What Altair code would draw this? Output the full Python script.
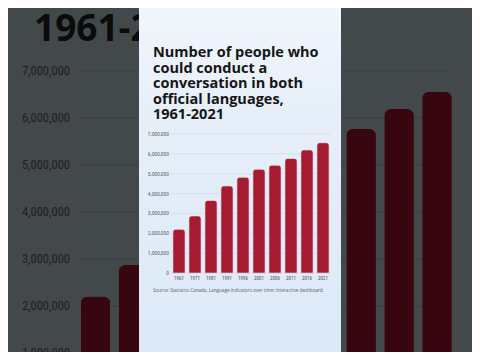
import altair as alt
import pandas as pd

# ---- data ----
years = ["1961", "1971", "1981", "1991", "1996", "2001", "2006", "2011", "2016", "2021"]
speakers = [2200000, 2870000, 3650000, 4380000, 4820000, 5220000, 5430000, 5770000, 6190000, 6560000]
tick_values = [0, 1000000, 2000000, 3000000, 4000000, 5000000, 6000000, 7000000]
title_lines = ["Number of people who", "could conduct a", "conversation in both",
               "official languages,", "1961-2021"]
bg_title_lines = ["official languages,", "1961-2021"]
source_note = "Source: Statistics Canada, Language indicators over time: interactive dashboard."

bars_df = pd.DataFrame({"year": years, "speakers": speakers})
ticks_df = pd.DataFrame({"tick": tick_values})
title_df = pd.DataFrame({"line": title_lines, "row": list(range(len(title_lines)))})
bg_title_df = pd.DataFrame({"line": bg_title_lines, "row": list(range(len(bg_title_lines)))})
one_df = pd.DataFrame({"k": [0]})

# scales: background (enlarged, dimmed) chart and foreground panel chart
bg_x = alt.Scale(domain=years, range=[68.5, 448], paddingInner=0.22, paddingOuter=0.11)
bg_y = alt.Scale(domain=[0, 7000000], range=[392, 63])
fg_x = alt.Scale(domain=years, range=[163, 323], paddingInner=0.25, paddingOuter=0.125)
fg_y = alt.Scale(domain=[0, 7000000], range=[265, 126])

narrow = "Liberation Sans Narrow, Roboto Condensed, DejaVu Sans Condensed, sans-serif"
bold_font = "Open Sans"

# ---- background (dimmed) chart ----
bg_grid = alt.Chart(ticks_df).mark_rule(color="#3a3f43", strokeWidth=1).encode(
    x=alt.value(72), x2=alt.value(440),
    y=alt.Y("tick:Q", scale=bg_y, axis=None),
)
bg_bars = alt.Chart(bars_df).mark_bar(
    color="#38060f", cornerRadiusTopLeft=7, cornerRadiusTopRight=7
).encode(
    x=alt.X("year:N", scale=bg_x, axis=None, sort=years),
    y=alt.Y("speakers:Q", scale=bg_y, axis=None),
)
bg_labels = alt.Chart(ticks_df).mark_text(
    align="right", baseline="middle", fontSize=12.5, font=narrow, color="#1c2023"
).encode(
    x=alt.value(62),
    y=alt.Y("tick:Q", scale=bg_y, axis=None),
    text=alt.Text("tick:Q", format=","),
)
bg_title = alt.Chart(bg_title_df).mark_text(
    align="left", baseline="alphabetic", fontSize=37, font=bold_font,
    fontWeight="bold", color="#0b0b0b"
).encode(
    x=alt.value(26),
    y=alt.Y("row:Q", scale=alt.Scale(domain=[0, 1], range=[-5, 33]), axis=None),
    text="line:N",
)

# ---- foreground panel ----
panel = alt.Chart(one_df).mark_rect(
    fill=alt.Gradient(
        gradient="linear",
        stops=[
            alt.GradientStop(color="#f1f6fd", offset=0),
            alt.GradientStop(color="#e6eff9", offset=0.3),
            alt.GradientStop(color="#dde9f8", offset=1),
        ],
        x1=0, x2=0, y1=0, y2=1,
    )
).encode(x=alt.value(131), x2=alt.value(333), y=alt.value(0), y2=alt.value(352))

title = alt.Chart(title_df).mark_text(
    align="left", baseline="alphabetic", fontSize=14.5, font=bold_font,
    fontWeight="bold", color="#151515"
).encode(
    x=alt.value(145),
    y=alt.Y("row:Q", scale=alt.Scale(domain=[0, 4], range=[49, 111]), axis=None),
    text="line:N",
)

fg_grid = alt.Chart(ticks_df).mark_rule(color="#cbd7e5", strokeWidth=0.6).encode(
    x=alt.value(163), x2=alt.value(323),
    y=alt.Y("tick:Q", scale=fg_y, axis=None),
)
fg_bars = alt.Chart(bars_df).mark_bar(
    color="#a51b31", cornerRadiusTopLeft=3, cornerRadiusTopRight=3,
    stroke="#e8b8c0", strokeWidth=0.4
).encode(
    x=alt.X("year:N", scale=fg_x, axis=None, sort=years),
    y=alt.Y("speakers:Q", scale=fg_y, axis=None),
)
fg_ylabels = alt.Chart(ticks_df).mark_text(
    align="right", baseline="middle", fontSize=5.5, font=narrow, color="#5a5f66"
).encode(
    x=alt.value(161),
    y=alt.Y("tick:Q", scale=fg_y, axis=None),
    text=alt.Text("tick:Q", format=","),
)
fg_xlabels = alt.Chart(bars_df).mark_text(
    align="center", baseline="top", fontSize=5, font=narrow, color="#4a4f55"
).encode(
    x=alt.X("year:N", scale=fg_x, axis=None, sort=years),
    y=alt.value(268),
    text="year:N",
)
source = alt.Chart(one_df).mark_text(
    align="left", baseline="middle", fontSize=4.6, font="Open Sans", color="#5a5f66"
).encode(x=alt.value(145), y=alt.value(283), text=alt.value(source_note))

chart = alt.layer(
    bg_grid, bg_bars, bg_labels, bg_title,
    panel, title, fg_grid, fg_bars, fg_ylabels, fg_xlabels, source,
).resolve_scale(x="independent", y="independent").properties(
    width=464, height=344, padding=0,
    autosize=alt.AutoSizeParams(type="none"),
    background="#43484b",
).configure_view(stroke=None)

chart.save("out.html", embed_options={"renderer": "svg", "actions": False})
